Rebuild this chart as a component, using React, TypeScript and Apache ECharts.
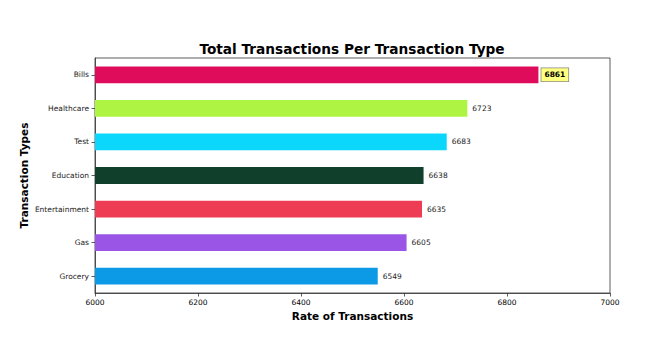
import React, { useEffect, useRef } from "react";
import * as echarts from "echarts";

const categories = ["Bills", "Healthcare", "Test", "Education", "Entertainment", "Gas", "Grocery"];
const values = [6861, 6723, 6683, 6638, 6635, 6605, 6549];
const colors = ["#DE0C5A", "#ADF542", "#0BD7FC", "#10402C", "#EE3C54", "#9A54E6", "#0C99E6"];
const xTicks = { min: 6000, max: 7000, interval: 200 };

export default function App() {
  const ref = useRef<HTMLDivElement>(null);
  useEffect(() => {
    if (!ref.current) return;
    const chart = echarts.init(ref.current, null, { renderer: "svg" });
    const font = "DejaVu Sans";
    chart.setOption({
      animation: false,
      textStyle: { fontFamily: font },
      title: {
        text: "Total Transactions Per Transaction Type",
        left: 352,
        textAlign: "center",
        top: 42,
        padding: 0,
        textStyle: { fontFamily: font, fontSize: 13.7, fontWeight: "bold", color: "#000" },
      },
      grid: {
        left: 95,
        right: 57,
        top: 58,
        bottom: 48,
        show: true,
        borderColor: "#333",
        borderWidth: 0.8,
        backgroundColor: "transparent",
      },
      xAxis: {
        type: "value",
        min: xTicks.min,
        max: xTicks.max,
        interval: xTicks.interval,
        name: "Rate of Transactions",
        nameLocation: "middle",
        nameGap: 17,
        nameMoveOverlap: false,
        nameTextStyle: { fontFamily: font, fontSize: 10.5, fontWeight: "bold", color: "#000" },
        axisLine: { show: true, lineStyle: { color: "#333", width: 0.8 } },
        axisTick: { show: true, length: 3.5, lineStyle: { color: "#333", width: 0.8 } },
        axisLabel: { fontFamily: font, fontSize: 7.5, color: "#000", margin: 5, formatter: (v: number) => String(v) },
        splitLine: { show: false },
      },
      yAxis: {
        type: "category",
        data: categories,
        inverse: true,
        name: "Transaction Types",
        nameLocation: "middle",
        nameGap: 66,
        nameMoveOverlap: false,
        nameTextStyle: { fontFamily: font, fontSize: 10.5, fontWeight: "bold", color: "#000" },
        axisLine: { show: true, lineStyle: { color: "#333", width: 0.8 } },
        axisTick: { show: true, alignWithLabel: true, length: 3.5, lineStyle: { color: "#333", width: 0.8 } },
        axisLabel: { fontFamily: font, fontSize: 7.5, color: "#222", margin: 6 },
      },
      series: [
        {
          type: "bar",
          barWidth: "50%",
          data: values.map((v, i) => ({
            value: v,
            itemStyle: { color: colors[i] },
            label:
              i === 0
                ? {
                    show: true,
                    position: "right",
                    distance: 3,
                    fontFamily: font,
                    fontSize: 7.5,
                    fontWeight: "bold",
                    color: "#000",
                    backgroundColor: "#FFFF80",
                    borderColor: "#888",
                    borderWidth: 0.8,
                    padding: [3, 3, 2, 3],
                  }
                : {
                    show: true,
                    position: "right",
                    distance: 5,
                    fontFamily: font,
                    fontSize: 7.5,
                    color: "#222",
                  },
          })),
        },
      ],
    });
    return () => chart.dispose();
  }, []);
  return <div ref={ref} style={{ position: "absolute", left: 0, top: 0, width: 667, height: 341 }} />;
}
